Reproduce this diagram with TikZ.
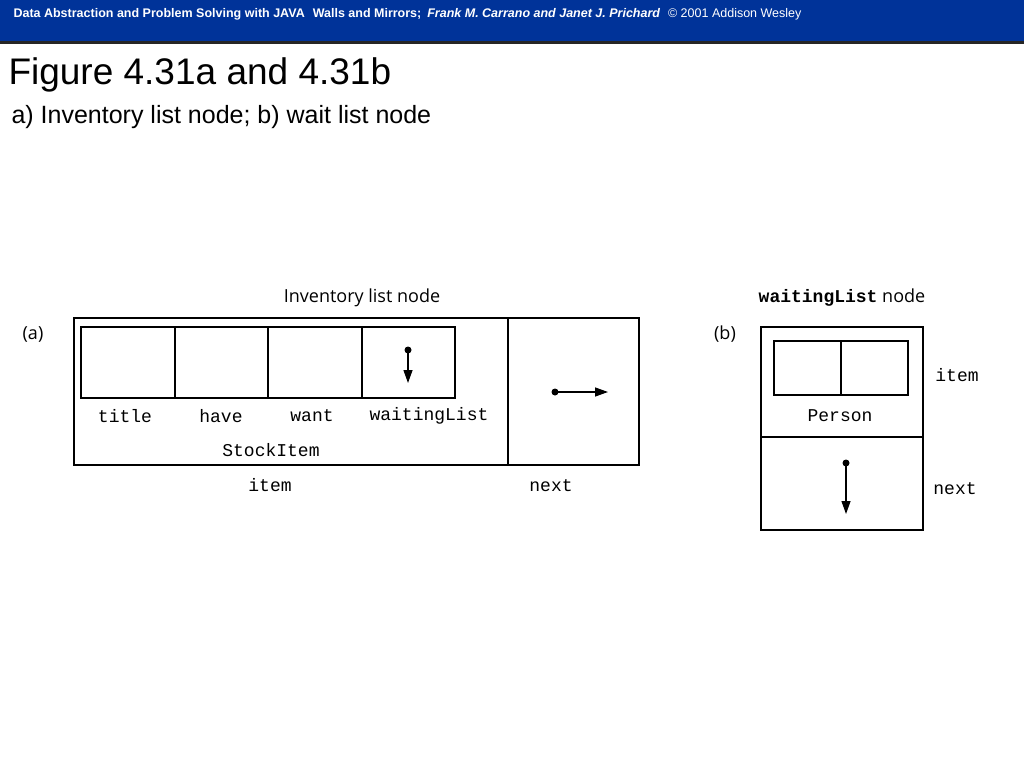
\documentclass[tikz,border=0pt]{standalone}
\usepackage{fontspec}
\setmainfont{Liberation Sans}
\newfontfamily\mono{Liberation Mono}
\newfontfamily\opsans{Open Sans}
\usetikzlibrary{arrows.meta}
\begin{document}
\begin{tikzpicture}[x=1pt,y=-1pt,
  bx/.style={draw=black,line width=2.6pt},
  lbl/.style={font=\mono\fontsize{18}{20}\selectfont},
  captext/.style={font=\opsans\fontsize{18}{20}\selectfont},
  ptr/.style={line width=1.3pt,-{Triangle[length=13pt,width=9pt]}},
  dotc/.style={circle,fill=black,inner sep=0pt,minimum size=7pt}]
\useasboundingbox (0,0) rectangle (1024,768);
\fill[white] (0,0) rectangle (1024,768);
\fill[fill={rgb,255:red,0;green,51;blue,153}] (0,0) rectangle (1024,41);
\fill[black!85] (0,41) rectangle (1024,44);
\node[anchor=west,white,font=\bfseries\fontsize{12.5}{14}\selectfont] (hdr) at (10,14) {Data Abstraction and Problem Solving with JAVA\hspace{8pt}Walls and Mirrors;\hspace{6pt}\itshape Frank M. Carrano and Janet J. Prichard\hspace{8pt}\upshape\mdseries\copyright\ 2001 Addison Wesley};
\node[anchor=west,font=\fontsize{37}{40}\selectfont] (title) at (5,75) {Figure 4.31a and 4.31b};
\node[anchor=west,font=\fontsize{25}{28}\selectfont] (sub) at (8,117) {a) Inventory list node; b) wait list node};
% (a)
\draw[bx] (74,318) rectangle (639,465);
\draw[bx] (508,318) -- (508,465);
\draw[bx] (81,327) rectangle (455,398);
\foreach \x in {175,268,362} \draw[bx] (\x,327) -- (\x,398);
\node[lbl] (t1) at (125,416) {title};
\node[lbl] (t2) at (221,416) {have};
\node[lbl] (t3) at (312,416) {want};
\node[lbl] (t4) at (429,416) {waitingList};
\node[lbl] (si) at (271,450) {StockItem};
\node[lbl] (it) at (270,485) {item};
\node[lbl] (nx) at (551,486) {next};
\node[captext] (inv) at (362,298) {Inventory list node};
\node[captext] (la) at (33,334) {(a)};
\node[dotc] (d1) at (408,350) {};
\coordinate (e1) at (408,383);
\draw[ptr] (d1.center) -- (e1);
\node[dotc] (d2) at (555,392) {};
\coordinate (e2) at (608,392);
\draw[ptr] (d2.center) -- (e2);
% (b)
\draw[bx] (761,327) rectangle (923,530);
\draw[bx] (761,437) -- (923,437);
\draw[bx] (774,341) rectangle (908,395);
\draw[bx] (841,341) -- (841,395);
\node[lbl] (pe) at (840,416) {Person};
\node[lbl] (bi) at (957,375) {item};
\node[lbl] (bn) at (955,489) {next};
\node[captext] (lb) at (725,334) {(b)};
\node[captext] (wl) at (842,298) {{\mono\bfseries waitingList} node};
\node[dotc] (d3) at (846,463) {};
\coordinate (e3) at (846,514);
\draw[ptr] (d3.center) -- (e3);
\end{tikzpicture}
\end{document}
